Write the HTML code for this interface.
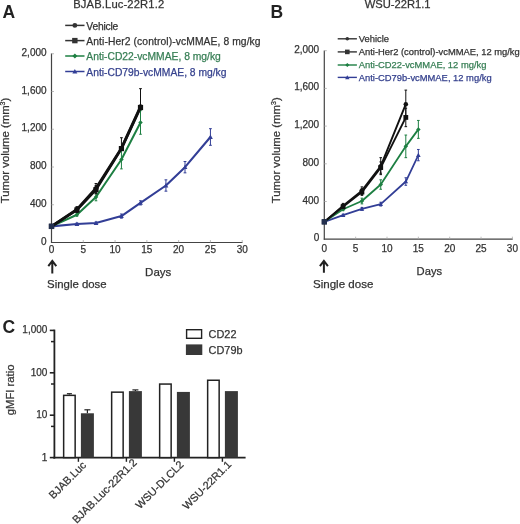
<!DOCTYPE html>
<html><head><meta charset="utf-8"><title>Figure</title><style>html,body{margin:0;padding:0;background:#fff;width:520px;height:524px;overflow:hidden}text{stroke-width:0.25px}</style></head><body>
<svg width="520" height="524" viewBox="0 0 520 524" style="display:block">
<g font-family='"Liberation Sans", Arial, Helvetica, sans-serif'>
<text x="2.40" y="17.80" font-size="17.5" fill="#222" text-anchor="start" font-weight="bold" >A</text>
<text x="270.40" y="18.00" font-size="17.5" fill="#222" text-anchor="start" font-weight="bold" >B</text>
<text x="2.60" y="332.60" font-size="17.5" fill="#222" text-anchor="start" font-weight="bold" >C</text>
<text x="73.20" y="8.30" font-size="11.2" fill="#333" stroke="#333" text-anchor="start" font-weight="normal" textLength="91" lengthAdjust="spacing">BJAB.Luc-22R1.2</text>
<text x="364.70" y="8.30" font-size="11.2" fill="#333" stroke="#333" text-anchor="start" font-weight="normal" >WSU-22R1.1</text>
<line x1="51.50" y1="53.45" x2="51.50" y2="243.00" stroke="#444" stroke-width="1.2" />
<line x1="51.00" y1="242.50" x2="242.51" y2="242.50" stroke="#444" stroke-width="1.2" />
<text x="46.60" y="244.50" font-size="10" fill="#333" stroke="#333" text-anchor="end" font-weight="normal" >0</text>
<line x1="51.50" y1="204.75" x2="54.00" y2="204.75" stroke="#aaa" stroke-width="0.8" />
<text x="46.60" y="206.75" font-size="10" fill="#333" stroke="#333" text-anchor="end" font-weight="normal" >400</text>
<line x1="51.50" y1="167.00" x2="54.00" y2="167.00" stroke="#aaa" stroke-width="0.8" />
<text x="46.60" y="169.00" font-size="10" fill="#333" stroke="#333" text-anchor="end" font-weight="normal" >800</text>
<line x1="51.50" y1="129.25" x2="54.00" y2="129.25" stroke="#aaa" stroke-width="0.8" />
<text x="46.60" y="131.25" font-size="10" fill="#333" stroke="#333" text-anchor="end" font-weight="normal" >1,200</text>
<line x1="51.50" y1="91.50" x2="54.00" y2="91.50" stroke="#aaa" stroke-width="0.8" />
<text x="46.60" y="93.50" font-size="10" fill="#333" stroke="#333" text-anchor="end" font-weight="normal" >1,600</text>
<line x1="51.50" y1="53.75" x2="54.00" y2="53.75" stroke="#aaa" stroke-width="0.8" />
<text x="46.60" y="55.75" font-size="10" fill="#333" stroke="#333" text-anchor="end" font-weight="normal" >2,000</text>
<text x="51.50" y="252.90" font-size="10" fill="#333" stroke="#333" text-anchor="middle" font-weight="normal" >0</text>
<line x1="83.28" y1="242.50" x2="83.28" y2="240.00" stroke="#aaa" stroke-width="0.8" />
<text x="83.28" y="252.90" font-size="10" fill="#333" stroke="#333" text-anchor="middle" font-weight="normal" >5</text>
<line x1="115.07" y1="242.50" x2="115.07" y2="240.00" stroke="#aaa" stroke-width="0.8" />
<text x="115.07" y="252.90" font-size="10" fill="#333" stroke="#333" text-anchor="middle" font-weight="normal" >10</text>
<line x1="146.86" y1="242.50" x2="146.86" y2="240.00" stroke="#aaa" stroke-width="0.8" />
<text x="146.86" y="252.90" font-size="10" fill="#333" stroke="#333" text-anchor="middle" font-weight="normal" >15</text>
<line x1="178.64" y1="242.50" x2="178.64" y2="240.00" stroke="#aaa" stroke-width="0.8" />
<text x="178.64" y="252.90" font-size="10" fill="#333" stroke="#333" text-anchor="middle" font-weight="normal" >20</text>
<line x1="210.43" y1="242.50" x2="210.43" y2="240.00" stroke="#aaa" stroke-width="0.8" />
<text x="210.43" y="252.90" font-size="10" fill="#333" stroke="#333" text-anchor="middle" font-weight="normal" >25</text>
<line x1="242.21" y1="242.50" x2="242.21" y2="240.00" stroke="#aaa" stroke-width="0.8" />
<text x="242.21" y="252.90" font-size="10" fill="#333" stroke="#333" text-anchor="middle" font-weight="normal" >30</text>
<line x1="76.93" y1="224.95" x2="76.93" y2="223.06" stroke="#323e96" stroke-width="1.0" />
<line x1="75.53" y1="223.06" x2="78.33" y2="223.06" stroke="#323e96" stroke-width="1.0" />
<line x1="75.53" y1="224.95" x2="78.33" y2="224.95" stroke="#323e96" stroke-width="1.0" />
<line x1="96.00" y1="223.91" x2="96.00" y2="222.02" stroke="#323e96" stroke-width="1.0" />
<line x1="94.60" y1="222.02" x2="97.40" y2="222.02" stroke="#323e96" stroke-width="1.0" />
<line x1="94.60" y1="223.91" x2="97.40" y2="223.91" stroke="#323e96" stroke-width="1.0" />
<line x1="121.43" y1="218.15" x2="121.43" y2="214.00" stroke="#323e96" stroke-width="1.0" />
<line x1="120.03" y1="214.00" x2="122.83" y2="214.00" stroke="#323e96" stroke-width="1.0" />
<line x1="120.03" y1="218.15" x2="122.83" y2="218.15" stroke="#323e96" stroke-width="1.0" />
<line x1="140.50" y1="204.94" x2="140.50" y2="200.79" stroke="#323e96" stroke-width="1.0" />
<line x1="139.10" y1="200.79" x2="141.90" y2="200.79" stroke="#323e96" stroke-width="1.0" />
<line x1="139.10" y1="204.94" x2="141.90" y2="204.94" stroke="#323e96" stroke-width="1.0" />
<line x1="165.93" y1="191.16" x2="165.93" y2="179.84" stroke="#323e96" stroke-width="1.0" />
<line x1="164.53" y1="179.84" x2="167.33" y2="179.84" stroke="#323e96" stroke-width="1.0" />
<line x1="164.53" y1="191.16" x2="167.33" y2="191.16" stroke="#323e96" stroke-width="1.0" />
<line x1="185.00" y1="172.85" x2="185.00" y2="161.53" stroke="#323e96" stroke-width="1.0" />
<line x1="183.60" y1="161.53" x2="186.40" y2="161.53" stroke="#323e96" stroke-width="1.0" />
<line x1="183.60" y1="172.85" x2="186.40" y2="172.85" stroke="#323e96" stroke-width="1.0" />
<line x1="210.43" y1="145.29" x2="210.43" y2="128.68" stroke="#323e96" stroke-width="1.0" />
<line x1="209.03" y1="128.68" x2="211.83" y2="128.68" stroke="#323e96" stroke-width="1.0" />
<line x1="209.03" y1="145.29" x2="211.83" y2="145.29" stroke="#323e96" stroke-width="1.0" />
<path d="M51.50 226.36 L76.93 224.00 L96.00 222.96 L121.43 216.07 L140.50 202.86 L165.93 185.50 L185.00 167.19 L210.43 136.99" fill="none" stroke="#323e96" stroke-width="2.1" stroke-linejoin="round"/>
<path d="M51.50 223.96L53.90 228.28L49.10 228.28Z" fill="#323e96"/>
<path d="M76.93 221.60L79.33 225.92L74.53 225.92Z" fill="#323e96"/>
<path d="M96.00 220.56L98.40 224.88L93.60 224.88Z" fill="#323e96"/>
<path d="M121.43 213.67L123.83 217.99L119.03 217.99Z" fill="#323e96"/>
<path d="M140.50 200.46L142.90 204.78L138.10 204.78Z" fill="#323e96"/>
<path d="M165.93 183.10L168.33 187.42L163.53 187.42Z" fill="#323e96"/>
<path d="M185.00 164.79L187.40 169.11L182.60 169.11Z" fill="#323e96"/>
<path d="M210.43 134.59L212.83 138.91L208.03 138.91Z" fill="#323e96"/>
<line x1="76.93" y1="216.17" x2="76.93" y2="213.34" stroke="#1d7f42" stroke-width="1.0" />
<line x1="75.63" y1="213.34" x2="78.23" y2="213.34" stroke="#1d7f42" stroke-width="1.0" />
<line x1="75.63" y1="216.17" x2="78.23" y2="216.17" stroke="#1d7f42" stroke-width="1.0" />
<line x1="96.00" y1="200.79" x2="96.00" y2="193.24" stroke="#1d7f42" stroke-width="1.0" />
<line x1="94.70" y1="193.24" x2="97.30" y2="193.24" stroke="#1d7f42" stroke-width="1.0" />
<line x1="94.70" y1="200.79" x2="97.30" y2="200.79" stroke="#1d7f42" stroke-width="1.0" />
<line x1="121.43" y1="168.89" x2="121.43" y2="150.01" stroke="#1d7f42" stroke-width="1.0" />
<line x1="120.13" y1="150.01" x2="122.73" y2="150.01" stroke="#1d7f42" stroke-width="1.0" />
<line x1="120.13" y1="168.89" x2="122.73" y2="168.89" stroke="#1d7f42" stroke-width="1.0" />
<line x1="140.50" y1="134.25" x2="140.50" y2="110.66" stroke="#1d7f42" stroke-width="1.0" />
<line x1="139.20" y1="110.66" x2="141.80" y2="110.66" stroke="#1d7f42" stroke-width="1.0" />
<line x1="139.20" y1="134.25" x2="141.80" y2="134.25" stroke="#1d7f42" stroke-width="1.0" />
<path d="M51.50 226.36 L76.93 214.75 L96.00 197.01 L121.43 159.45 L140.50 122.45" fill="none" stroke="#1d7f42" stroke-width="2.0" stroke-linejoin="round"/>
<path d="M51.50 224.11L53.75 226.36L51.50 228.61L49.25 226.36Z" fill="#1d7f42"/>
<path d="M76.93 212.50L79.18 214.75L76.93 217.00L74.68 214.75Z" fill="#1d7f42"/>
<path d="M96.00 194.76L98.25 197.01L96.00 199.26L93.75 197.01Z" fill="#1d7f42"/>
<path d="M121.43 157.20L123.68 159.45L121.43 161.70L119.18 159.45Z" fill="#1d7f42"/>
<path d="M140.50 120.20L142.75 122.45L140.50 124.70L138.25 122.45Z" fill="#1d7f42"/>
<line x1="76.93" y1="212.30" x2="76.93" y2="207.58" stroke="#111" stroke-width="1.0" />
<line x1="75.53" y1="207.58" x2="78.33" y2="207.58" stroke="#111" stroke-width="1.0" />
<line x1="75.53" y1="212.30" x2="78.33" y2="212.30" stroke="#111" stroke-width="1.0" />
<line x1="96.00" y1="193.90" x2="96.00" y2="185.40" stroke="#111" stroke-width="1.0" />
<line x1="94.60" y1="185.40" x2="97.40" y2="185.40" stroke="#111" stroke-width="1.0" />
<line x1="94.60" y1="193.90" x2="97.40" y2="193.90" stroke="#111" stroke-width="1.0" />
<path d="M51.50 226.36 L76.93 209.94 L96.00 189.65 L121.43 148.60 L140.50 107.54" fill="none" stroke="#111" stroke-width="2.7" stroke-linejoin="round"/>
<rect x="48.90" y="223.76" width="5.20" height="5.20" fill="#111"/>
<rect x="74.33" y="207.34" width="5.20" height="5.20" fill="#111"/>
<rect x="93.40" y="187.05" width="5.20" height="5.20" fill="#111"/>
<rect x="118.83" y="146.00" width="5.20" height="5.20" fill="#111"/>
<rect x="137.90" y="104.94" width="5.20" height="5.20" fill="#111"/>
<line x1="76.93" y1="212.30" x2="76.93" y2="206.64" stroke="#111" stroke-width="1.0" />
<line x1="75.53" y1="206.64" x2="78.33" y2="206.64" stroke="#111" stroke-width="1.0" />
<line x1="75.53" y1="212.30" x2="78.33" y2="212.30" stroke="#111" stroke-width="1.0" />
<line x1="96.00" y1="192.95" x2="96.00" y2="183.52" stroke="#111" stroke-width="1.0" />
<line x1="94.60" y1="183.52" x2="97.40" y2="183.52" stroke="#111" stroke-width="1.0" />
<line x1="94.60" y1="192.95" x2="97.40" y2="192.95" stroke="#111" stroke-width="1.0" />
<line x1="121.43" y1="148.12" x2="121.43" y2="137.74" stroke="#111" stroke-width="1.0" />
<line x1="120.03" y1="137.74" x2="122.83" y2="137.74" stroke="#111" stroke-width="1.0" />
<line x1="140.50" y1="106.60" x2="140.50" y2="88.67" stroke="#111" stroke-width="1.0" />
<line x1="139.10" y1="88.67" x2="141.90" y2="88.67" stroke="#111" stroke-width="1.0" />
<path d="M51.50 226.36 L76.93 209.47 L96.00 188.23 L121.43 148.12 L140.50 106.60" fill="none" stroke="#111" stroke-width="2.7" stroke-linejoin="round"/>
<circle cx="51.50" cy="226.36" r="2.25" fill="#111"/>
<circle cx="76.93" cy="209.47" r="2.25" fill="#111"/>
<circle cx="96.00" cy="188.23" r="2.25" fill="#111"/>
<circle cx="121.43" cy="148.12" r="2.25" fill="#111"/>
<circle cx="140.50" cy="106.60" r="2.25" fill="#111"/>
<rect x="48.80" y="223.66" width="5.4" height="5.4" fill="#23304f"/>
<line x1="65.20" y1="25.40" x2="84.50" y2="25.40" stroke="#333" stroke-width="1.5" />
<circle cx="74.85" cy="25.40" r="2.40" fill="#333"/>
<text x="86.30" y="29.60" font-size="10.3" fill="#333" stroke="#333" text-anchor="start" font-weight="normal" textLength="32.0" lengthAdjust="spacing">Vehicle</text>
<line x1="65.20" y1="40.60" x2="84.50" y2="40.60" stroke="#333" stroke-width="1.5" />
<rect x="72.15" y="37.90" width="5.40" height="5.40" fill="#333"/>
<text x="86.30" y="44.80" font-size="10.3" fill="#333" stroke="#333" text-anchor="start" font-weight="normal" textLength="174.3" lengthAdjust="spacing">Anti-Her2 (control)-vcMMAE, 8 mg/kg</text>
<line x1="65.20" y1="56.00" x2="84.50" y2="56.00" stroke="#1d7f42" stroke-width="1.5" />
<path d="M74.85 53.50L77.35 56.00L74.85 58.50L72.35 56.00Z" fill="#1d7f42"/>
<text x="86.30" y="60.20" font-size="10.3" fill="#377f55" stroke="#377f55" text-anchor="start" font-weight="normal" >Anti-CD22-vcMMAE, 8 mg/kg</text>
<line x1="65.20" y1="71.50" x2="84.50" y2="71.50" stroke="#323e96" stroke-width="1.5" />
<path d="M74.85 69.00L77.35 73.50L72.35 73.50Z" fill="#323e96"/>
<text x="86.30" y="75.70" font-size="10.3" fill="#36428e" stroke="#36428e" text-anchor="start" font-weight="normal" >Anti-CD79b-vcMMAE, 8 mg/kg</text>
<line x1="324.30" y1="50.40" x2="324.30" y2="239.70" stroke="#444" stroke-width="1.2" />
<line x1="323.80" y1="239.20" x2="512.70" y2="239.20" stroke="#444" stroke-width="1.2" />
<text x="319.20" y="241.20" font-size="10" fill="#333" stroke="#333" text-anchor="end" font-weight="normal" >0</text>
<line x1="324.30" y1="201.50" x2="326.80" y2="201.50" stroke="#aaa" stroke-width="0.8" />
<text x="319.20" y="203.50" font-size="10" fill="#333" stroke="#333" text-anchor="end" font-weight="normal" >400</text>
<line x1="324.30" y1="163.80" x2="326.80" y2="163.80" stroke="#aaa" stroke-width="0.8" />
<text x="319.20" y="165.80" font-size="10" fill="#333" stroke="#333" text-anchor="end" font-weight="normal" >800</text>
<line x1="324.30" y1="126.10" x2="326.80" y2="126.10" stroke="#aaa" stroke-width="0.8" />
<text x="319.20" y="128.10" font-size="10" fill="#333" stroke="#333" text-anchor="end" font-weight="normal" >1,200</text>
<line x1="324.30" y1="88.40" x2="326.80" y2="88.40" stroke="#aaa" stroke-width="0.8" />
<text x="319.20" y="90.40" font-size="10" fill="#333" stroke="#333" text-anchor="end" font-weight="normal" >1,600</text>
<line x1="324.30" y1="50.70" x2="326.80" y2="50.70" stroke="#aaa" stroke-width="0.8" />
<text x="319.20" y="52.70" font-size="10" fill="#333" stroke="#333" text-anchor="end" font-weight="normal" >2,000</text>
<text x="324.30" y="251.60" font-size="10" fill="#333" stroke="#333" text-anchor="middle" font-weight="normal" >0</text>
<line x1="355.65" y1="239.20" x2="355.65" y2="236.70" stroke="#aaa" stroke-width="0.8" />
<text x="355.65" y="251.60" font-size="10" fill="#333" stroke="#333" text-anchor="middle" font-weight="normal" >5</text>
<line x1="387.00" y1="239.20" x2="387.00" y2="236.70" stroke="#aaa" stroke-width="0.8" />
<text x="387.00" y="251.60" font-size="10" fill="#333" stroke="#333" text-anchor="middle" font-weight="normal" >10</text>
<line x1="418.35" y1="239.20" x2="418.35" y2="236.70" stroke="#aaa" stroke-width="0.8" />
<text x="418.35" y="251.60" font-size="10" fill="#333" stroke="#333" text-anchor="middle" font-weight="normal" >15</text>
<line x1="449.70" y1="239.20" x2="449.70" y2="236.70" stroke="#aaa" stroke-width="0.8" />
<text x="449.70" y="251.60" font-size="10" fill="#333" stroke="#333" text-anchor="middle" font-weight="normal" >20</text>
<line x1="481.05" y1="239.20" x2="481.05" y2="236.70" stroke="#aaa" stroke-width="0.8" />
<text x="481.05" y="251.60" font-size="10" fill="#333" stroke="#333" text-anchor="middle" font-weight="normal" >25</text>
<line x1="512.40" y1="239.20" x2="512.40" y2="236.70" stroke="#aaa" stroke-width="0.8" />
<text x="512.40" y="251.60" font-size="10" fill="#333" stroke="#333" text-anchor="middle" font-weight="normal" >30</text>
<line x1="343.11" y1="216.11" x2="343.11" y2="214.22" stroke="#323e96" stroke-width="1.0" />
<line x1="341.81" y1="214.22" x2="344.41" y2="214.22" stroke="#323e96" stroke-width="1.0" />
<line x1="341.81" y1="216.11" x2="344.41" y2="216.11" stroke="#323e96" stroke-width="1.0" />
<line x1="361.92" y1="210.27" x2="361.92" y2="207.44" stroke="#323e96" stroke-width="1.0" />
<line x1="360.62" y1="207.44" x2="363.22" y2="207.44" stroke="#323e96" stroke-width="1.0" />
<line x1="360.62" y1="210.27" x2="363.22" y2="210.27" stroke="#323e96" stroke-width="1.0" />
<line x1="380.73" y1="206.02" x2="380.73" y2="202.25" stroke="#323e96" stroke-width="1.0" />
<line x1="379.43" y1="202.25" x2="382.03" y2="202.25" stroke="#323e96" stroke-width="1.0" />
<line x1="379.43" y1="206.02" x2="382.03" y2="206.02" stroke="#323e96" stroke-width="1.0" />
<line x1="405.81" y1="185.29" x2="405.81" y2="177.75" stroke="#323e96" stroke-width="1.0" />
<line x1="404.51" y1="177.75" x2="407.11" y2="177.75" stroke="#323e96" stroke-width="1.0" />
<line x1="404.51" y1="185.29" x2="407.11" y2="185.29" stroke="#323e96" stroke-width="1.0" />
<line x1="418.35" y1="160.78" x2="418.35" y2="149.47" stroke="#323e96" stroke-width="1.0" />
<line x1="417.05" y1="149.47" x2="419.65" y2="149.47" stroke="#323e96" stroke-width="1.0" />
<line x1="417.05" y1="160.78" x2="419.65" y2="160.78" stroke="#323e96" stroke-width="1.0" />
<path d="M324.30 221.86 L343.11 215.17 L361.92 208.85 L380.73 204.14 L405.81 181.52 L418.35 155.13" fill="none" stroke="#323e96" stroke-width="1.75" stroke-linejoin="round"/>
<path d="M324.30 219.56L326.60 223.70L322.00 223.70Z" fill="#323e96"/>
<path d="M343.11 212.87L345.41 217.01L340.81 217.01Z" fill="#323e96"/>
<path d="M361.92 206.55L364.22 210.69L359.62 210.69Z" fill="#323e96"/>
<path d="M380.73 201.84L383.03 205.98L378.43 205.98Z" fill="#323e96"/>
<path d="M405.81 179.22L408.11 183.36L403.51 183.36Z" fill="#323e96"/>
<path d="M418.35 152.83L420.65 156.97L416.05 156.97Z" fill="#323e96"/>
<line x1="343.11" y1="210.64" x2="343.11" y2="207.81" stroke="#1d7f42" stroke-width="1.0" />
<line x1="341.81" y1="207.81" x2="344.41" y2="207.81" stroke="#1d7f42" stroke-width="1.0" />
<line x1="341.81" y1="210.64" x2="344.41" y2="210.64" stroke="#1d7f42" stroke-width="1.0" />
<line x1="361.92" y1="203.86" x2="361.92" y2="198.20" stroke="#1d7f42" stroke-width="1.0" />
<line x1="360.62" y1="198.20" x2="363.22" y2="198.20" stroke="#1d7f42" stroke-width="1.0" />
<line x1="360.62" y1="203.86" x2="363.22" y2="203.86" stroke="#1d7f42" stroke-width="1.0" />
<line x1="380.73" y1="189.25" x2="380.73" y2="179.82" stroke="#1d7f42" stroke-width="1.0" />
<line x1="379.43" y1="179.82" x2="382.03" y2="179.82" stroke="#1d7f42" stroke-width="1.0" />
<line x1="379.43" y1="189.25" x2="382.03" y2="189.25" stroke="#1d7f42" stroke-width="1.0" />
<line x1="405.81" y1="157.67" x2="405.81" y2="135.05" stroke="#1d7f42" stroke-width="1.0" />
<line x1="404.51" y1="135.05" x2="407.11" y2="135.05" stroke="#1d7f42" stroke-width="1.0" />
<line x1="404.51" y1="157.67" x2="407.11" y2="157.67" stroke="#1d7f42" stroke-width="1.0" />
<line x1="418.35" y1="138.35" x2="418.35" y2="120.44" stroke="#1d7f42" stroke-width="1.0" />
<line x1="417.05" y1="120.44" x2="419.65" y2="120.44" stroke="#1d7f42" stroke-width="1.0" />
<line x1="417.05" y1="138.35" x2="419.65" y2="138.35" stroke="#1d7f42" stroke-width="1.0" />
<path d="M324.30 221.86 L343.11 209.23 L361.92 201.03 L380.73 184.53 L405.81 146.36 L418.35 129.40" fill="none" stroke="#1d7f42" stroke-width="1.8" stroke-linejoin="round"/>
<path d="M324.30 219.61L326.55 221.86L324.30 224.11L322.05 221.86Z" fill="#1d7f42"/>
<path d="M343.11 206.98L345.36 209.23L343.11 211.48L340.86 209.23Z" fill="#1d7f42"/>
<path d="M361.92 198.78L364.17 201.03L361.92 203.28L359.67 201.03Z" fill="#1d7f42"/>
<path d="M380.73 182.28L382.98 184.53L380.73 186.78L378.48 184.53Z" fill="#1d7f42"/>
<path d="M405.81 144.11L408.06 146.36L405.81 148.61L403.56 146.36Z" fill="#1d7f42"/>
<path d="M418.35 127.15L420.60 129.40L418.35 131.65L416.10 129.40Z" fill="#1d7f42"/>
<line x1="343.11" y1="208.57" x2="343.11" y2="204.80" stroke="#111" stroke-width="1.0" />
<line x1="341.81" y1="204.80" x2="344.41" y2="204.80" stroke="#111" stroke-width="1.0" />
<line x1="341.81" y1="208.57" x2="344.41" y2="208.57" stroke="#111" stroke-width="1.0" />
<line x1="361.92" y1="195.37" x2="361.92" y2="188.78" stroke="#111" stroke-width="1.0" />
<line x1="360.62" y1="188.78" x2="363.22" y2="188.78" stroke="#111" stroke-width="1.0" />
<line x1="360.62" y1="195.37" x2="363.22" y2="195.37" stroke="#111" stroke-width="1.0" />
<line x1="380.73" y1="173.22" x2="380.73" y2="161.91" stroke="#111" stroke-width="1.0" />
<line x1="379.43" y1="161.91" x2="382.03" y2="161.91" stroke="#111" stroke-width="1.0" />
<line x1="379.43" y1="173.22" x2="382.03" y2="173.22" stroke="#111" stroke-width="1.0" />
<line x1="405.81" y1="126.67" x2="405.81" y2="108.19" stroke="#111" stroke-width="1.0" />
<line x1="404.51" y1="108.19" x2="407.11" y2="108.19" stroke="#111" stroke-width="1.0" />
<line x1="404.51" y1="126.67" x2="407.11" y2="126.67" stroke="#111" stroke-width="1.0" />
<path d="M324.30 221.86 L343.11 206.68 L361.92 192.07 L380.73 167.57 L405.81 117.43" fill="none" stroke="#111" stroke-width="1.9" stroke-linejoin="round"/>
<rect x="321.90" y="219.46" width="4.80" height="4.80" fill="#111"/>
<rect x="340.71" y="204.28" width="4.80" height="4.80" fill="#111"/>
<rect x="359.52" y="189.67" width="4.80" height="4.80" fill="#111"/>
<rect x="378.33" y="165.17" width="4.80" height="4.80" fill="#111"/>
<rect x="403.41" y="115.03" width="4.80" height="4.80" fill="#111"/>
<line x1="343.11" y1="208.10" x2="343.11" y2="203.38" stroke="#111" stroke-width="1.0" />
<line x1="341.81" y1="203.38" x2="344.41" y2="203.38" stroke="#111" stroke-width="1.0" />
<line x1="341.81" y1="208.10" x2="344.41" y2="208.10" stroke="#111" stroke-width="1.0" />
<line x1="361.92" y1="194.43" x2="361.92" y2="186.89" stroke="#111" stroke-width="1.0" />
<line x1="360.62" y1="186.89" x2="363.22" y2="186.89" stroke="#111" stroke-width="1.0" />
<line x1="360.62" y1="194.43" x2="363.22" y2="194.43" stroke="#111" stroke-width="1.0" />
<line x1="380.73" y1="174.64" x2="380.73" y2="157.67" stroke="#111" stroke-width="1.0" />
<line x1="379.43" y1="157.67" x2="382.03" y2="157.67" stroke="#111" stroke-width="1.0" />
<line x1="379.43" y1="174.64" x2="382.03" y2="174.64" stroke="#111" stroke-width="1.0" />
<line x1="405.81" y1="118.37" x2="405.81" y2="90.10" stroke="#111" stroke-width="1.0" />
<line x1="404.51" y1="90.10" x2="407.11" y2="90.10" stroke="#111" stroke-width="1.0" />
<line x1="404.51" y1="118.37" x2="407.11" y2="118.37" stroke="#111" stroke-width="1.0" />
<path d="M324.30 221.86 L343.11 205.74 L361.92 190.66 L380.73 166.16 L405.81 104.23" fill="none" stroke="#111" stroke-width="1.9" stroke-linejoin="round"/>
<circle cx="324.30" cy="221.86" r="2.25" fill="#111"/>
<circle cx="343.11" cy="205.74" r="2.25" fill="#111"/>
<circle cx="361.92" cy="190.66" r="2.25" fill="#111"/>
<circle cx="380.73" cy="166.16" r="2.25" fill="#111"/>
<circle cx="405.81" cy="104.23" r="2.25" fill="#111"/>
<rect x="321.60" y="219.16" width="5.4" height="5.4" fill="#23304f"/>
<line x1="337.70" y1="38.80" x2="356.90" y2="38.80" stroke="#333" stroke-width="1.4" />
<circle cx="347.30" cy="38.80" r="1.80" fill="#333"/>
<text x="358.80" y="42.20" font-size="9.4" fill="#333" stroke="#333" text-anchor="start" font-weight="normal" >Vehicle</text>
<line x1="337.70" y1="51.90" x2="356.90" y2="51.90" stroke="#333" stroke-width="1.4" />
<rect x="345.00" y="49.60" width="4.60" height="4.60" fill="#333"/>
<text x="358.80" y="55.30" font-size="9.4" fill="#333" stroke="#333" text-anchor="start" font-weight="normal" >Anti-Her2 (control)-vcMMAE, 12 mg/kg</text>
<line x1="337.70" y1="65.00" x2="356.90" y2="65.00" stroke="#1d7f42" stroke-width="1.4" />
<path d="M347.30 62.90L349.40 65.00L347.30 67.10L345.20 65.00Z" fill="#1d7f42"/>
<text x="358.80" y="68.40" font-size="9.4" fill="#377f55" stroke="#377f55" text-anchor="start" font-weight="normal" >Anti-CD22-vcMMAE, 12 mg/kg</text>
<line x1="337.70" y1="77.40" x2="356.90" y2="77.40" stroke="#323e96" stroke-width="1.4" />
<path d="M347.30 75.20L349.50 79.16L345.10 79.16Z" fill="#323e96"/>
<text x="358.80" y="80.80" font-size="9.4" fill="#36428e" stroke="#36428e" text-anchor="start" font-weight="normal" >Anti-CD79b-vcMMAE, 12 mg/kg</text>
<text x="145.10" y="275.50" font-size="11.5" fill="#333" stroke="#333" text-anchor="start" font-weight="normal" >Days</text>
<text x="416.60" y="275.00" font-size="11.2" fill="#333" stroke="#333" text-anchor="start" font-weight="normal" >Days</text>
<path d="M52.30 273.40V260.70M48.30 266.10L52.30 260.90L56.30 266.10" fill="none" stroke="#222" stroke-width="2.0"/>
<path d="M323.90 272.80V260.70M319.90 266.10L323.90 260.90L327.90 266.10" fill="none" stroke="#222" stroke-width="2.0"/>
<text x="47.10" y="287.60" font-size="11.4" fill="#333" stroke="#333" text-anchor="start" font-weight="normal" >Single dose</text>
<text x="313.00" y="288.00" font-size="11.55" fill="#333" stroke="#333" text-anchor="start" font-weight="normal" >Single dose</text>
<text transform="translate(9.2 203.3) rotate(-90)" font-size="11.35" fill="#333" stroke="#333">Tumor volume (mm<tspan font-size="7" dy="-4">3</tspan><tspan dy="4">)</tspan></text>
<text transform="translate(279.8 203.3) rotate(-90)" font-size="11.4" fill="#333" stroke="#333">Tumor volume (mm<tspan font-size="7" dy="-4">3</tspan><tspan dy="4">)</tspan></text>
<line x1="54.40" y1="329.60" x2="54.40" y2="458.60" stroke="#222" stroke-width="1.8" />
<line x1="49.80" y1="457.60" x2="54.40" y2="457.60" stroke="#222" stroke-width="1.6" />
<text x="47.40" y="460.60" font-size="10" fill="#333" stroke="#333" text-anchor="end" font-weight="normal" >1</text>
<line x1="49.80" y1="415.20" x2="54.40" y2="415.20" stroke="#222" stroke-width="1.6" />
<text x="47.40" y="418.20" font-size="10" fill="#333" stroke="#333" text-anchor="end" font-weight="normal" >10</text>
<line x1="49.80" y1="372.80" x2="54.40" y2="372.80" stroke="#222" stroke-width="1.6" />
<text x="47.40" y="375.80" font-size="10" fill="#333" stroke="#333" text-anchor="end" font-weight="normal" >100</text>
<line x1="49.80" y1="330.40" x2="54.40" y2="330.40" stroke="#222" stroke-width="1.6" />
<text x="47.40" y="333.40" font-size="10" fill="#333" stroke="#333" text-anchor="end" font-weight="normal" >1,000</text>
<line x1="51.00" y1="426.40" x2="54.40" y2="426.40" stroke="#222" stroke-width="1.5" />
<line x1="51.00" y1="384.00" x2="54.40" y2="384.00" stroke="#222" stroke-width="1.5" />
<line x1="51.00" y1="341.60" x2="54.40" y2="341.60" stroke="#222" stroke-width="1.5" />
<line x1="53.40" y1="457.60" x2="245.60" y2="457.60" stroke="#222" stroke-width="1.8" />
<line x1="78.40" y1="457.60" x2="78.40" y2="461.80" stroke="#222" stroke-width="1.4" />
<line x1="69.40" y1="393.72" x2="69.40" y2="394.61" stroke="#222" stroke-width="1.2" />
<line x1="66.90" y1="393.72" x2="71.90" y2="393.72" stroke="#222" stroke-width="1.2" />
<line x1="87.40" y1="409.81" x2="87.40" y2="413.28" stroke="#222" stroke-width="1.2" />
<line x1="84.40" y1="409.81" x2="90.40" y2="409.81" stroke="#222" stroke-width="1.2" />
<rect x="63.65" y="395.36" width="11.50" height="62.24" fill="#fff" stroke="#222" stroke-width="1.5"/>
<rect x="80.90" y="413.28" width="13" height="44.32" fill="#383838"/>
<text transform="translate(86.90 466.00) rotate(-45)" font-size="10.8" fill="#333" stroke="#333" text-anchor="end">BJAB.Luc</text>
<line x1="126.40" y1="457.60" x2="126.40" y2="461.80" stroke="#222" stroke-width="1.4" />
<line x1="135.40" y1="389.90" x2="135.40" y2="391.11" stroke="#222" stroke-width="1.2" />
<line x1="132.40" y1="389.90" x2="138.40" y2="389.90" stroke="#222" stroke-width="1.2" />
<rect x="111.65" y="392.16" width="11.50" height="65.44" fill="#fff" stroke="#222" stroke-width="1.5"/>
<rect x="128.90" y="391.11" width="13" height="66.49" fill="#383838"/>
<text transform="translate(137.40 463.30) rotate(-45)" font-size="10.8" fill="#333" stroke="#333" text-anchor="end">BJAB.Luc-22R1.2</text>
<line x1="174.40" y1="457.60" x2="174.40" y2="461.80" stroke="#222" stroke-width="1.4" />
<rect x="159.65" y="384.06" width="11.50" height="73.54" fill="#fff" stroke="#222" stroke-width="1.5"/>
<rect x="176.90" y="391.92" width="13" height="65.68" fill="#383838"/>
<text transform="translate(184.20 465.30) rotate(-45)" font-size="10.8" fill="#333" stroke="#333" text-anchor="end">WSU-DLCL2</text>
<line x1="222.40" y1="457.60" x2="222.40" y2="461.80" stroke="#222" stroke-width="1.4" />
<rect x="207.65" y="380.25" width="11.50" height="77.35" fill="#fff" stroke="#222" stroke-width="1.5"/>
<rect x="224.90" y="391.11" width="13" height="66.49" fill="#383838"/>
<text transform="translate(231.90 465.30) rotate(-45)" font-size="10.8" fill="#333" stroke="#333" text-anchor="end">WSU-22R1.1</text>
<rect x="186.6" y="329.7" width="15" height="8.6" fill="#fff" stroke="#222" stroke-width="1.4"/>
<rect x="185.9" y="344.4" width="16.4" height="10.6" fill="#383838"/>
<text x="208.60" y="338.20" font-size="10.9" fill="#333" stroke="#333" text-anchor="start" font-weight="normal" >CD22</text>
<text x="208.60" y="353.60" font-size="10.9" fill="#333" stroke="#333" text-anchor="start" font-weight="normal" >CD79b</text>
<text transform="translate(13.7 415.3) rotate(-90)" font-size="11.3" fill="#333" stroke="#333">gMFI ratio</text>
</g></svg>
</body></html>
